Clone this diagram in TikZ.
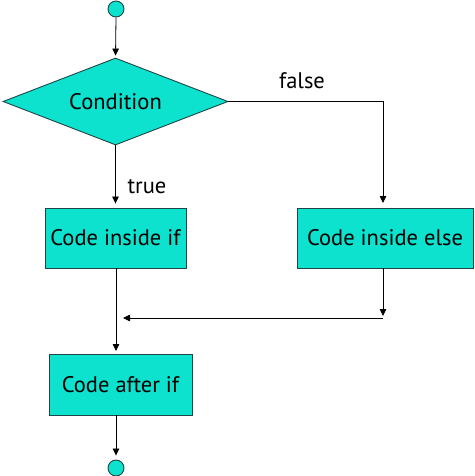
\documentclass[tikz,border=0pt]{standalone}
\usepackage{fontspec}
\setmainfont{PT Sans}
\usetikzlibrary{arrows.meta,shapes.geometric}
\definecolor{fillc}{RGB}{12,226,206}
\definecolor{linec}{RGB}{30,70,70}
\begin{document}
\begin{tikzpicture}[x=1pt,y=-1pt,
  txt/.style={font=\fontsize{22.5}{26}\selectfont},
  box/.style={draw=linec,fill=fillc,line width=0.9pt,rectangle,inner sep=0pt,txt},
  dec/.style={draw=linec,fill=fillc,line width=0.9pt,diamond,aspect=2.6,inner sep=0pt,txt},
  term/.style={draw=linec,fill=fillc,line width=0.9pt,circle,inner sep=0pt,minimum size=16pt},
  arr/.style={draw=black,line width=0.8pt,-{Triangle[length=7pt,width=6.5pt]}},
  lbl/.style={txt,inner sep=0pt}]
\useasboundingbox (0,0) rectangle (474,476);
\node[term] (start) at (116,9) {};
\node[dec,minimum width=225pt,minimum height=87pt] (cond) at (115.5,101.5) {Condition};
\node[box,minimum width=141pt,minimum height=60pt] (ifbox) at (115.5,238) {Code inside if};
\node[box,minimum width=176pt,minimum height=60pt] (elsebox) at (385,238) {Code inside else};
\node[box,minimum width=143pt,minimum height=61pt] (afterbox) at (120.5,384.5) {Code after if};
\node[term] (stop) at (116,468) {};
\node[lbl] (truelbl) at (147,187) {true};
\node[lbl] (falselbl) at (302,81) {false};
\coordinate (elsetop) at (383,208);
\coordinate (elsebot) at (383,268);
\coordinate (merge) at (383,318);
\coordinate (mergeend) at (123,318);
\coordinate (ifbot) at (116,268);
\coordinate (aftertop) at (116,354);
\coordinate (afterbot) at (116,415);
\draw[arr,shorten >=2pt] (start.south) -- (cond.north);
\draw[arr,shorten >=4pt] (cond.south) -- (cond.south |- ifbox.north);
\draw[arr,shorten >=5pt] (cond.east) -| (elsetop);
\draw[arr,shorten >=2pt] (elsebot) -- (merge);
\draw[arr] (merge) -- (mergeend);
\draw[arr,shorten >=3pt] (ifbot) -- (aftertop);
\draw[arr,shorten >=4pt] (afterbot) -- (stop.north);
\end{tikzpicture}
\end{document}
